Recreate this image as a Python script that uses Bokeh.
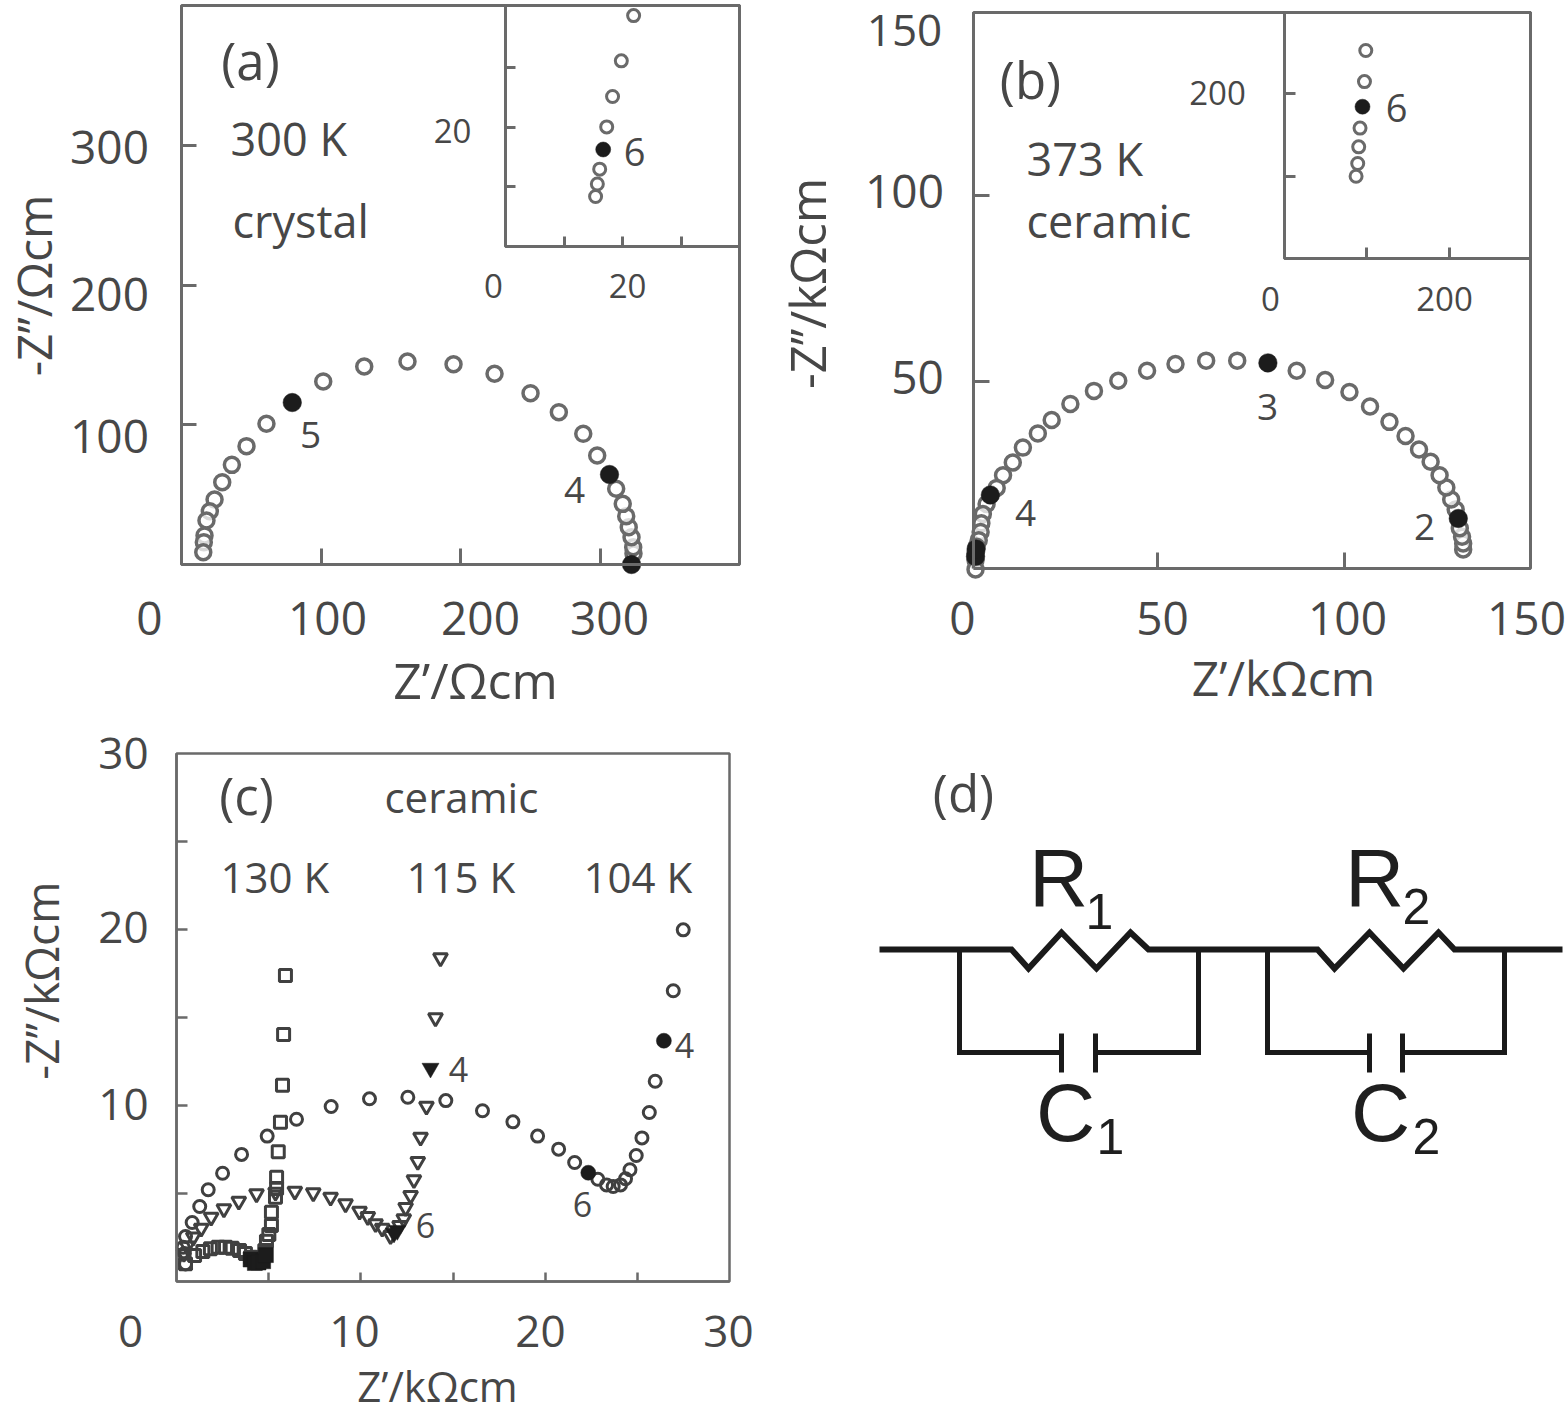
from math import pi
from bokeh.core.properties import value
from bokeh.embed import file_html
from bokeh.layouts import column
from bokeh.models import BoxAnnotation, FixedTicker, LinearAxis, Range1d
from bokeh.plotting import figure
from bokeh.resources import INLINE

# ---------- panel (a): 300 K crystal ----------
a_x = [15.6, 16.0, 16.5, 17.9, 20.3, 23.7, 29.2, 36.1, 46.6, 60.9, 101.6, 131.0, 162.0, 195.0,
       224.4, 250.2, 270.5, 288.0, 298.0, 311.6, 316.3, 318.8, 320.6, 322.6, 323.8, 324.0]
a_y = [8.8, 16.0, 20.8, 31.5, 38.1, 46.5, 58.9, 71.3, 84.7, 100.7, 131.0, 141.7, 145.3, 143.3,
       136.5, 122.6, 109.0, 93.5, 78.0, 54.2, 43.4, 34.6, 26.7, 19.5, 12.4, 7.9]
a_fx = [79.4, 306.8, 322.6]
a_fy = [115.9, 64.4, 0.0]
ai_x = [21.9, 19.8, 18.3, 17.3, 16.1, 15.7, 15.4]
ai_y = [38.8, 31.2, 25.2, 20.1, 13.0, 10.5, 8.4]
ai_fx = [16.7]
ai_fy = [16.3]

# ---------- panel (b): 373 K ceramic ----------
b_x = [1.34, 1.34, 1.34, 1.6, 2.2, 2.7, 2.9, 3.3, 4.3, 7.0, 8.7, 11.3, 14.0, 18.0, 21.7, 26.7, 33.0,
       39.5, 47.2, 54.8, 63.0, 71.3, 87.2, 94.8, 101.3, 106.8, 112.0, 116.3, 119.9, 123.0, 125.4,
       127.2, 128.5, 129.7, 130.8, 131.4, 131.7, 131.7]
b_y = [-0.24, 2.25, 4.05, 5.8, 7.6, 9.8, 12.1, 14.6, 17.3, 21.6, 25.0, 28.4, 32.4, 36.2, 39.8, 44.1,
       47.6, 50.3, 53.0, 54.8, 55.7, 55.7, 53.0, 50.5, 47.3, 43.4, 39.3, 35.5, 31.9, 28.6, 25.0,
       21.7, 18.5, 15.8, 10.8, 8.5, 6.7, 5.1]
b_fx = [1.34, 1.5, 5.3, 79.5, 130.4]
b_fy = [3.2, 5.2, 19.7, 55.1, 13.4]
bi_x = [98.8, 97.2, 91.8, 90.2, 89.0, 87.0]
bi_y = [252.8, 215.0, 158.5, 135.7, 115.5, 100.0]
bi_fx = [94.8]
bi_fy = [184.5]

# ---------- panel (c): ceramic at three temperatures ----------
c104_x = [27.49, 26.95, 25.97, 25.65, 25.25, 24.94, 24.60, 24.36, 24.09, 23.69, 23.33, 22.86,
          21.60, 20.73, 19.59, 18.25, 16.60, 14.61, 12.55, 10.47, 8.39, 6.51, 4.92, 3.53, 2.50,
          1.72, 1.26, 0.85, 0.49, 0.36, 0.43, 0.49]
c104_y = [19.98, 16.52, 11.38, 9.60, 8.16, 7.16, 6.35, 5.84, 5.49, 5.40, 5.49, 5.81,
          6.76, 7.52, 8.26, 9.07, 9.70, 10.28, 10.47, 10.38, 9.94, 9.22, 8.26, 7.22, 6.15,
          5.21, 4.26, 3.35, 2.56, 1.95, 1.59, 1.00]
c104_fx = [26.44, 22.34]
c104_fy = [13.68, 6.18]
c115_x = [14.32, 14.05, 13.56, 13.24, 13.09, 12.88, 12.70, 12.43, 12.33, 12.10, 11.61, 11.16, 10.80,
          10.38, 9.93, 9.17, 8.36, 7.42, 6.42, 5.37, 4.34, 3.38, 2.57, 1.88, 1.34, 0.91, 0.58, 0.40]
c115_y = [18.39, 14.98, 9.96, 8.20, 6.82, 5.78, 4.89, 4.20, 3.56, 3.18, 2.61, 3.03, 3.28,
          3.69, 3.99, 4.41, 4.79, 5.04, 5.13, 5.07, 4.98, 4.56, 4.13, 3.65, 3.03, 2.52, 2.01, 1.59]
c115_fx = [13.78, 11.98, 11.80]
c115_fy = [12.12, 2.90, 2.75]
c130_x = [5.91, 5.81, 5.75, 5.64, 5.52, 5.43, 5.43, 5.37, 5.15, 5.15, 5.01, 4.88, 4.79, 4.67, 4.29,
          4.02, 3.74, 3.42, 3.02, 2.66, 2.26, 1.84, 1.43, 0.98, 0.49]
c130_y = [17.39, 14.03, 11.15, 9.05, 7.37, 5.93, 5.28, 4.79, 3.94, 3.18, 2.67, 2.29, 1.76, 1.36, 1.10,
          1.38, 1.59, 1.76, 1.89, 1.95, 1.95, 1.86, 1.70, 1.48, 1.01]
c130_fx = [4.02, 4.25, 4.45, 4.70, 4.85]
c130_fy = [1.25, 1.05, 1.08, 1.15, 1.50]

# ---------- tick values and labels ----------
a_x_ticks = [100, 200, 300]
a_y_ticks = [100, 200, 300]
ai_x_ticks = [10, 20, 30]
ai_y_ticks = [10, 20, 30]
b_x_ticks = [50, 100]
b_y_ticks = [50, 100]
bi_x_ticks = [100, 200]
bi_y_ticks = [100, 200]
c_x_ticks = [5, 10, 15, 20, 25]
c_y_ticks = [5, 10, 15, 20, 25]

# ---------- panel (d): equivalent circuit, drawn in picture units ----------
wire_x = [879, 1011, 1028, 1061, 1096, 1130, 1148, 1317, 1334, 1369, 1403, 1438, 1454, 1562]
wire_y = [949, 949, 968, 932, 968, 932, 949, 949, 968, 932, 968, 932, 949, 949]
cap1_left_x = [959, 959, 1061]
cap1_right_x = [1095, 1198, 1198]
cap2_left_x = [1267, 1267, 1369]
cap2_right_x = [1402, 1504, 1504]
cap_left_y = [949, 1052, 1052]
cap_right_y = [1052, 1052, 949]
plate_y = [1033, 1072]
plates_x = [1061, 1095, 1369, 1402]

INK = "#474747"
FRAME = "#6a6a6a"
RING = "#6a6a6a"
RING_C = "#404040"
SANS = "Open Sans"
ARIAL = "Liberation Sans"
PAD = 16


def panel(left, right, top, bottom, xlim, ylim, xticks, yticks, xlen, ylen, lw=3, fill=None):
    sx = (right - left) / (xlim[1] - xlim[0])
    sy = (bottom - top) / (ylim[1] - ylim[0])
    p = figure(
        width=right - left + 2 * PAD, height=bottom - top + 2 * PAD,
        x_range=Range1d(xlim[0] - PAD / sx, xlim[1] + PAD / sx),
        y_range=Range1d(ylim[0] - PAD / sy, ylim[1] + PAD / sy),
        output_backend="svg", toolbar_location=None, x_axis_type=None, y_axis_type=None,
        min_border=0, min_border_left=0, min_border_right=0, min_border_top=0, min_border_bottom=0,
        outline_line_color=None, background_fill_color=None, border_fill_color=None,
        styles={"position": "absolute", "left": f"{left - PAD}px", "top": f"{top - PAD}px"},
    )
    p.grid.visible = False
    p.add_layout(BoxAnnotation(left=xlim[0], right=xlim[1], bottom=ylim[0], top=ylim[1],
                               fill_color=fill, fill_alpha=1 if fill else 0,
                               line_color=FRAME, line_alpha=1, line_width=lw, level="underlay"))
    for side, loc, ticks, length, bounds in (("below", ylim[0], xticks, xlen, xlim),
                                             ("left", xlim[0], yticks, ylen, ylim)):
        ax = LinearAxis(ticker=FixedTicker(ticks=ticks), fixed_location=loc, bounds=bounds,
                        major_tick_in=length, major_tick_out=0, minor_tick_line_color=None,
                        major_tick_line_color=FRAME, major_tick_line_width=lw,
                        axis_line_color=FRAME, axis_line_width=lw,
                        major_label_overrides={t: "" for t in ticks},
                        major_label_text_color=None)
        p.add_layout(ax, side)
    return p


def rings(p, x, y, fx, fy, size, lw, color=RING, marker="circle"):
    p.scatter(x[::-1], y[::-1], marker=marker, size=size, line_width=lw, line_color=color,
              fill_color="white", fill_alpha=0.75)
    p.scatter(fx, fy, marker=marker, size=size + lw, line_color="#1c1c1c", fill_color="#1c1c1c", line_width=0.5)


def open_marks(p, x, y, fx, fy, size, lw, marker):
    p.scatter(x, y, marker=marker, size=size, line_width=lw, line_color=RING_C, fill_color=None)
    p.scatter(fx, fy, marker=marker, size=size + lw, line_color="#1c1c1c", fill_color="#1c1c1c", line_width=0.5)


pa = panel(181, 739, 5, 564, (0, 400), (0, 400), a_x_ticks, a_y_ticks, 16, 15)
rings(pa, a_x, a_y, a_fx, a_fy, 15, 3.5)
pai = panel(505, 739, 5, 246, (0, 40), (0, 40.5), ai_x_ticks, ai_y_ticks, 10, 10, fill="white")
rings(pai, ai_x, ai_y, ai_fx, ai_fy, 12, 3)

pb = panel(973, 1530, 12, 568, (0.8, 149.7), (0, 149), b_x_ticks, b_y_ticks, 16, 16)
rings(pb, b_x, b_y, b_fx, b_fy, 15, 3.5)
pbi = panel(1284, 1530, 12, 258, (0, 299), (0, 299), bi_x_ticks, bi_y_ticks, 11, 11, fill="white")
rings(pbi, bi_x, bi_y, bi_fx, bi_fy, 12, 3)

pc = panel(176, 729, 753, 1281, (0, 30), (0, 30), c_x_ticks, c_y_ticks, 9, 11, lw=2.5)
open_marks(pc, c104_x, c104_y, c104_fx, c104_fy, 12, 3, "circle")
open_marks(pc, c115_x, c115_y, c115_fx, c115_fy, 14, 3, "inverted_triangle")
open_marks(pc, c130_x, c130_y, c130_fx, c130_fy, 12, 3, "square")

# Page-wide layer: all printed lettering and the circuit of panel (d)
top = figure(width=1567, height=1414, x_range=Range1d(0, 1567), y_range=Range1d(1414, 0),
             output_backend="svg", toolbar_location=None, x_axis_type=None, y_axis_type=None,
             min_border=0, outline_line_color=None, background_fill_color=None, border_fill_color=None,
             styles={"position": "absolute", "left": "0px", "top": "0px"})
top.grid.visible = False

top.line(wire_x, wire_y, line_color="#1a1a1a", line_width=6, line_join="miter")
for xs, ys in ((cap1_left_x, cap_left_y), (cap1_right_x, cap_right_y),
               (cap2_left_x, cap_left_y), (cap2_right_x, cap_right_y)):
    top.line(xs, ys, line_color="#1a1a1a", line_width=5, line_join="miter")
for px_ in plates_x:
    top.line([px_, px_], plate_y, line_color="#1a1a1a", line_width=5)


def put(rows, size, font=SANS, color=INK, align="center", angle=0.0):
    top.text([r[1] for r in rows], [r[2] for r in rows], text=[r[0] for r in rows],
             text_font=value(font), text_font_size=f"{size}px", text_color=color,
             text_align=align, text_baseline="middle", angle=angle)


# main tick labels
put([("0", 149, 618), ("100", 327, 618), ("200", 480, 618), ("300", 609, 618)], 46)
put([("300", 109, 147), ("200", 109, 294), ("100", 109, 436)], 46)
put([("0", 962, 618), ("50", 1162, 618), ("100", 1347, 618), ("150", 1526, 618)], 46)
put([("100", 904, 191), ("50", 917, 377)], 46)
put([("150", 904, 30)], 44)
put([("0", 130, 1331), ("10", 354, 1331), ("20", 540, 1331), ("30", 728, 1331)], 44)
put([("30", 123, 753), ("20", 123, 927), ("10", 123, 1104)], 44)
# inset tick labels
put([("20", 452, 130), ("0", 493, 285), ("20", 627, 285)], 33)
put([("200", 1217, 92), ("0", 1270, 298), ("200", 1444, 298)], 33)
# axis titles
put([("Z\u2019/\u03a9cm", 475, 679)], 50)
put([("Z\u2019/k\u03a9cm", 1283, 677)], 48)
put([("Z\u2019/k\u03a9cm", 437, 1385)], 42)
put([("-Z\u2019\u2019/\u03a9cm", 33, 285)], 48, angle=pi / 2)
put([("-Z\u2019\u2019/k\u03a9cm", 806, 283)], 49, angle=pi / 2)
put([("-Z\u2019\u2019/k\u03a9cm", 40, 980)], 46, angle=pi / 2)
# panel notes
put([("(a)", 250, 59), ("(b)", 1030, 78), ("(c)", 246, 794), ("(d)", 963, 791)], 51)
put([("300 K", 230, 138), ("crystal", 232, 220), ("373 K", 1026, 158), ("ceramic", 1026, 220)], 45, align="left")
put([("ceramic", 384, 796), ("130 K", 220, 876), ("115 K", 406, 876), ("104 K", 583, 876)], 42, align="left")
# point labels
put([("5", 310, 434), ("4", 574, 489), ("3", 1267, 406), ("4", 1025, 512), ("2", 1424, 526)], 37)
put([("6", 634, 151), ("6", 1396, 107)], 38)
put([("6", 425, 1225), ("4", 458, 1069), ("4", 684, 1045), ("6", 582, 1204)], 34)
# circuit lettering
put([("R", 1058, 877), ("R", 1374, 877), ("C", 1065, 1112), ("C", 1380, 1112)], 82, font=ARIAL, color="#1f1f1f")
put([("1", 1099, 911), ("2", 1416, 906), ("1", 1110, 1136), ("2", 1426, 1136)], 50, font=ARIAL, color="#1f1f1f")

page = column(pa, pai, pb, pbi, pc, top, width=1567, height=1414,
              styles={"position": "absolute", "left": "0px", "top": "0px"})
page.sizing_mode = "fixed"
with open("out.html", "w") as f:
    f.write(file_html(page, INLINE))
